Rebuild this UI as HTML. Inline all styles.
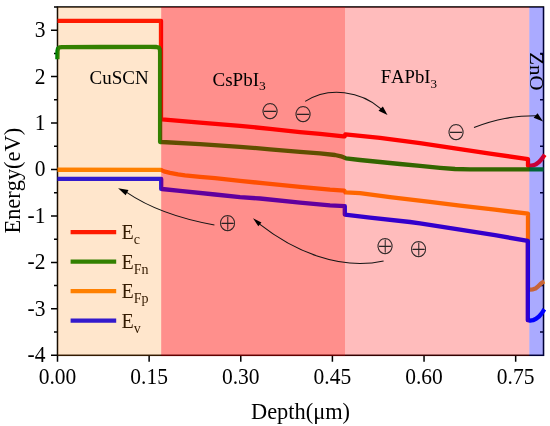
<!DOCTYPE html><html><head><meta charset="utf-8"><style>html,body{margin:0;padding:0;background:#fff;overflow:hidden}svg{display:block}</style></head><body>
<svg width="550" height="426" viewBox="0 0 550 426" style="font-kerning:none" font-family='"Liberation Serif", "Times New Roman", serif'>
<rect width="550" height="426" fill="#fff"/>
<rect x="161.2" y="6.96" width="183.8" height="348.34000000000003" fill="rgb(255,231,226)"/>
<rect x="345.0" y="6.96" width="184.29999999999995" height="348.34000000000003" fill="rgb(255,235,235)"/>
<rect x="529.3" y="6.96" width="14.200000000000045" height="348.34000000000003" fill="rgb(218,218,255)"/>
<g stroke="#000" stroke-width="1.5" fill="none">
<rect x="57.5" y="6.96" width="486.0" height="348.34000000000003"/>
<path d="M51.0,355.26H57.5M51.0,308.82H57.5M51.0,262.38H57.5M51.0,215.94H57.5M51.0,169.50H57.5M51.0,123.06H57.5M51.0,76.62H57.5M51.0,30.18H57.5M54.0,332.04H57.5M540.0,332.04H543.5M54.0,285.60H57.5M540.0,285.60H543.5M54.0,239.16H57.5M540.0,239.16H543.5M54.0,192.72H57.5M540.0,192.72H543.5M54.0,146.28H57.5M540.0,146.28H543.5M54.0,99.84H57.5M540.0,99.84H543.5M54.0,53.40H57.5M540.0,53.40H543.5M54.0,6.96H57.5M57.50,355.3V361.8M149.13,355.3V361.8M240.77,355.3V361.8M332.40,355.3V361.8M424.04,355.3V361.8M515.67,355.3V361.8"/>
</g>
<polyline points="57.50,20.80 161.00,20.80 161.00,119.40 162.00,119.40 200.00,122.60 240.00,125.80 270.00,128.90 300.00,132.10 320.00,133.80 343.50,136.30 344.60,136.40 345.40,134.30 380.00,137.90 420.00,143.20 455.00,148.30 490.00,153.60 528.00,159.10 528.00,165.80 529.50,165.90 533.00,165.40 536.00,164.30 539.00,162.00 541.50,159.30 543.50,156.50 544.80,154.80" fill="none" stroke="#ff0000" stroke-width="4.3" stroke-linejoin="round" stroke-linecap="butt"/>
<polyline points="57.40,59.20 57.50,51.00 58.00,48.60 59.40,47.40 62.00,47.10 100.00,47.00 150.00,46.90 156.50,47.00 158.90,47.60 159.90,49.30 160.10,52.00 160.10,142.00 162.00,142.00 200.00,144.20 240.00,146.80 270.00,149.30 300.00,151.90 320.00,153.30 335.00,155.00 341.00,156.30 344.00,157.50 346.00,158.40 360.00,160.00 380.00,162.00 400.00,164.00 420.00,165.90 440.00,167.80 455.00,169.00 470.00,169.40 543.50,169.40" fill="none" stroke="#008000" stroke-width="4.3" stroke-linejoin="round" stroke-linecap="butt"/>
<polyline points="57.50,169.75 161.00,169.80 162.50,170.60 165.00,171.70 170.00,172.90 178.00,174.30 185.00,175.30 200.00,176.90 215.00,178.20 240.00,180.80 265.00,183.40 280.00,184.90 300.00,186.80 330.00,189.60 344.20,190.60 345.50,192.40 360.00,193.20 390.00,197.10 430.00,201.90 460.00,205.60 495.00,209.70 528.00,213.60 528.00,289.70 530.00,289.70 533.00,289.30 535.50,288.40 538.00,286.60 540.50,284.00 542.50,282.30 544.30,281.40" fill="none" stroke="#ff8000" stroke-width="4.3" stroke-linejoin="round" stroke-linecap="butt"/>
<polyline points="57.50,178.90 161.20,178.90 161.20,188.90 162.00,189.00 180.00,190.90 215.00,194.50 240.00,197.10 260.00,198.50 300.00,202.70 330.00,205.40 344.80,206.20 344.80,214.60 370.00,217.60 410.00,222.00 420.00,223.40 460.00,229.70 495.00,235.20 527.80,240.90 527.80,320.20 530.00,320.60 533.00,320.20 536.00,318.80 539.00,316.50 541.50,313.60 543.30,310.90 544.40,309.30" fill="none" stroke="#0000ff" stroke-width="4.3" stroke-linejoin="round" stroke-linecap="butt"/>
<line x1="70.6" y1="232.20" x2="116.2" y2="232.20" stroke="#ff0000" stroke-width="4.3"/>
<line x1="70.6" y1="261.65" x2="116.2" y2="261.65" stroke="#008000" stroke-width="4.3"/>
<line x1="70.6" y1="291.10" x2="116.2" y2="291.10" stroke="#ff8000" stroke-width="4.3"/>
<line x1="70.6" y1="320.55" x2="116.2" y2="320.55" stroke="#0000ff" stroke-width="4.3"/>
<text x="121.5" y="239.40" font-size="20">E<tspan font-size="14" dy="5">c</tspan></text>
<text x="121.5" y="268.85" font-size="20">E<tspan font-size="14" dy="5">Fn</tspan></text>
<text x="121.5" y="298.30" font-size="20">E<tspan font-size="14" dy="5">Fp</tspan></text>
<text x="121.5" y="327.75" font-size="20">E<tspan font-size="14" dy="5">v</tspan></text>
<rect x="57.5" y="6.96" width="103.69999999999999" height="349.14000000000004" fill="rgb(255,128,0)" fill-opacity="0.2"/>
<rect x="161.2" y="6.96" width="183.8" height="349.14000000000004" fill="rgb(255,0,0)" fill-opacity="0.38"/>
<rect x="345.0" y="6.96" width="184.29999999999995" height="349.14000000000004" fill="rgb(255,0,0)" fill-opacity="0.2"/>
<rect x="529.3" y="6.96" width="15.000000000000046" height="349.14000000000004" fill="rgb(0,0,255)" fill-opacity="0.22"/>
<text transform="translate(45.4,362.16) scale(1,1.1)" font-size="21.5" text-anchor="end">-4</text>
<text transform="translate(45.4,315.72) scale(1,1.1)" font-size="21.5" text-anchor="end">-3</text>
<text transform="translate(45.4,269.28) scale(1,1.1)" font-size="21.5" text-anchor="end">-2</text>
<text transform="translate(45.4,222.84) scale(1,1.1)" font-size="21.5" text-anchor="end">-1</text>
<text transform="translate(45.4,176.40) scale(1,1.1)" font-size="21.5" text-anchor="end">0</text>
<text transform="translate(45.4,129.96) scale(1,1.1)" font-size="21.5" text-anchor="end">1</text>
<text transform="translate(45.4,83.52) scale(1,1.1)" font-size="21.5" text-anchor="end">2</text>
<text transform="translate(45.4,37.08) scale(1,1.1)" font-size="21.5" text-anchor="end">3</text>
<text transform="translate(57.50,383.9) scale(1,1.1)" font-size="21.5" text-anchor="middle">0.00</text>
<text transform="translate(149.13,383.9) scale(1,1.1)" font-size="21.5" text-anchor="middle">0.15</text>
<text transform="translate(240.77,383.9) scale(1,1.1)" font-size="21.5" text-anchor="middle">0.30</text>
<text transform="translate(332.40,383.9) scale(1,1.1)" font-size="21.5" text-anchor="middle">0.45</text>
<text transform="translate(424.04,383.9) scale(1,1.1)" font-size="21.5" text-anchor="middle">0.60</text>
<text transform="translate(515.67,383.9) scale(1,1.1)" font-size="21.5" text-anchor="middle">0.75</text>
<text transform="translate(300.5,418.6)" font-size="22.4" text-anchor="middle">Depth(μm)</text>
<text transform="translate(19.7,180.7) rotate(-90) scale(1,1.05)" x="0" y="0" font-size="22.4" text-anchor="middle">Energy(eV)</text>
<text x="89.5" y="84" font-size="19">CuSCN</text>
<text x="212.5" y="85.6" font-size="19">CsPbI<tspan font-size="13.5" dy="4.5">3</tspan></text>
<text x="380.7" y="83.3" font-size="18.7">FAPbI<tspan font-size="13" dy="4.5">3</tspan></text>
<text transform="translate(529.5,71.4) rotate(90) scale(1.1,1)" x="0" y="0" font-size="19" text-anchor="middle">ZnO</text>
<text transform="translate(270,110.7) scale(1,1.07)" x="-8.60" y="6.74" font-family="NanumGothic, 'DejaVu Sans', sans-serif" font-size="18.6" fill="#1a1a1a" stroke="#1a1a1a" stroke-width="0.25">⊖</text>
<text transform="translate(303.2,113.6) scale(1,1.07)" x="-8.60" y="6.74" font-family="NanumGothic, 'DejaVu Sans', sans-serif" font-size="18.6" fill="#1a1a1a" stroke="#1a1a1a" stroke-width="0.25">⊖</text>
<text transform="translate(456.2,132.1) scale(1,1.07)" x="-8.60" y="6.74" font-family="NanumGothic, 'DejaVu Sans', sans-serif" font-size="18.6" fill="#1a1a1a" stroke="#1a1a1a" stroke-width="0.25">⊖</text>
<text transform="translate(227.5,223) scale(1,1.07)" x="-8.60" y="6.74" font-family="NanumGothic, 'DejaVu Sans', sans-serif" font-size="18.6" fill="#1a1a1a" stroke="#1a1a1a" stroke-width="0.25">⊕</text>
<text transform="translate(385.2,245.5) scale(1,1.07)" x="-8.60" y="6.74" font-family="NanumGothic, 'DejaVu Sans', sans-serif" font-size="18.6" fill="#1a1a1a" stroke="#1a1a1a" stroke-width="0.25">⊕</text>
<text transform="translate(418.5,248.9) scale(1,1.07)" x="-8.60" y="6.74" font-family="NanumGothic, 'DejaVu Sans', sans-serif" font-size="18.6" fill="#1a1a1a" stroke="#1a1a1a" stroke-width="0.25">⊕</text>
<path d="M305.2,101.4 C328.8,86.0 360.8,91.1 381.0,108.8" fill="none" stroke="#151515" stroke-width="1.1"/><polygon points="387.5,114.9 382.84,106.45 378.51,110.64" fill="#000"/>
<path d="M474.0,127.4 C496.9,118.8 512.7,116.0 536.0,115.8" fill="none" stroke="#151515" stroke-width="1.1"/><polygon points="543.1,121.4 537.55,113.22 533.64,117.81" fill="#000"/>
<path d="M214.4,225.0 C183.6,219.4 152.7,210.2 126.7,192.4" fill="none" stroke="#151515" stroke-width="1.1"/><polygon points="118.1,188.2 128.5,190.03 125.66,195.29" fill="#000"/>
<path d="M383.6,261.0 C339.5,270.7 293.8,251.0 259.6,224.1" fill="none" stroke="#151515" stroke-width="1.1"/><polygon points="253.0,218.2 261.43,222.5 258.32,226.28" fill="#000"/>
</svg></body></html>
